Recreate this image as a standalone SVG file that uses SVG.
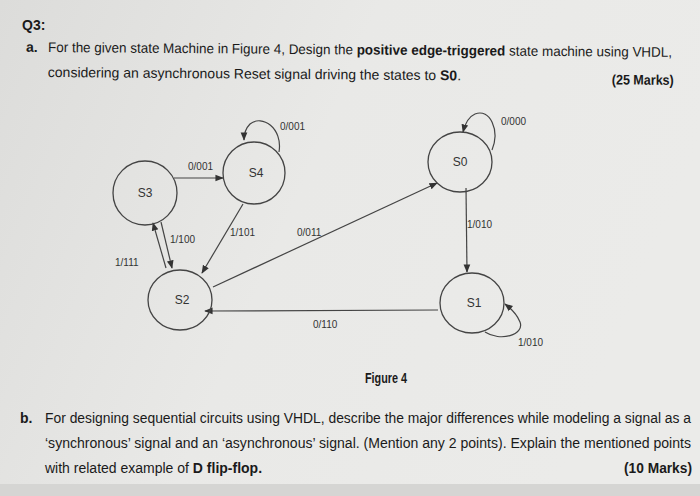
<svg xmlns="http://www.w3.org/2000/svg" width="700" height="496" viewBox="0 0 700 496">
<defs>
<linearGradient id="bg" x1="0" y1="0" x2="1" y2="0.3"><stop offset="0" stop-color="#dcdcda"/><stop offset="0.5" stop-color="#e9e9e7"/><stop offset="1" stop-color="#ebebe9"/></linearGradient>
<marker id="ah" viewBox="0 0 10 10" refX="9" refY="5" markerWidth="7" markerHeight="7" orient="auto-start-reverse"><path d="M0,1 L10,5 L0,9 z" fill="#333"/></marker>
<style>
.t{font-family:"Liberation Sans",Arial,sans-serif;font-size:14px;fill:#1a1a1a}
.b{font-weight:bold}
.n{fill:none;stroke:#444;stroke-width:1.3}
.l{font-family:"Liberation Sans",Arial,sans-serif;font-size:10px;fill:#333}
.s{font-family:"Liberation Sans",Arial,sans-serif;font-size:12px;fill:#333;text-anchor:middle}
.e{fill:none;stroke:#444;stroke-width:1.2;marker-end:url(#ah)}
</style>
</defs>
<rect width="700" height="496" fill="url(#bg)"/>
<rect y="484" width="700" height="12" fill="#d5d5d3"/>
<text class="t b" x="22" y="30">Q3:</text>
<g transform="rotate(0.45 48 52)">
<text class="t b" x="26" y="52">a.</text>
<text class="t" x="48" y="52" textLength="624" lengthAdjust="spacingAndGlyphs">For the given state Machine in Figure 4, Design the <tspan class="b">positive edge-triggered</tspan> state machine using VHDL,</text>
<text class="t" x="48" y="77">considering an asynchronous Reset signal driving the states to <tspan class="b">S0</tspan>.</text>
<text class="t b" x="612" y="80" textLength="62" lengthAdjust="spacingAndGlyphs">(25 Marks)</text>
</g>
<g id="connectors">
<line class="e" x1="174" y1="178" x2="223" y2="178"/>
<line class="e" x1="243" y1="204" x2="202" y2="273"/>
<line class="e" x1="161" y1="222" x2="172" y2="268"/>
<line class="e" x1="166" y1="268" x2="153" y2="223"/>
<line class="e" x1="213" y1="287" x2="437" y2="183"/>
<line class="e" x1="438" y1="310" x2="205" y2="311"/>
<line class="e" x1="466" y1="188" x2="467" y2="272"/>
<path class="e" d="M279,152 C283,128 262,114 250,124 C246,128 244,134 244,140"/>
<path class="e" d="M492,150 C500,130 490,108 475,114 C468,117 465,124 463,132"/>
<path class="e" d="M485,332 C500,342 525,335 520,322 C516,312 510,308 505,304"/>
<text class="l" x="188" y="170">0/001</text>
<text class="l" x="280" y="130">0/001</text>
<text class="l" x="501" y="125">0/000</text>
<text class="l" x="467" y="228">1/010</text>
<text class="l" x="297" y="236">0/011</text>
<text class="l" x="230" y="236">1/101</text>
<text class="l" x="170" y="243">1/100</text>
<text class="l" x="115" y="266">1/111</text>
<text class="l" x="313" y="328">0/110</text>
<text class="l" x="518" y="346">1/010</text>
</g>
<g id="S3"><ellipse class="n" cx="145" cy="193" rx="32" ry="32"/><text class="s" x="145" y="197">S3</text></g>
<g id="S4"><ellipse class="n" cx="254" cy="173" rx="31" ry="31"/><text class="s" x="256" y="177">S4</text></g>
<g id="S0"><ellipse class="n" cx="460" cy="162" rx="32" ry="30"/><text class="s" x="460" y="166">S0</text></g>
<g id="S2"><ellipse class="n" cx="180" cy="300" rx="32" ry="30"/><text class="s" x="182" y="304">S2</text></g>
<g id="S1"><ellipse class="n" cx="472" cy="303" rx="32" ry="30"/><text class="s" x="474" y="307">S1</text></g>
<text class="t b" x="365" y="383" textLength="42" lengthAdjust="spacingAndGlyphs">Figure 4</text>
<text class="t b" x="20" y="423">b.</text>
<text class="t" x="45" y="423" textLength="646" lengthAdjust="spacingAndGlyphs">For designing sequential circuits using VHDL, describe the major differences while modeling a signal as a</text>
<text class="t" x="45" y="448" textLength="646" lengthAdjust="spacingAndGlyphs">‘synchronous’ signal and an ‘asynchronous’ signal. (Mention any 2 points). Explain the mentioned points</text>
<text class="t" x="45" y="473">with related example of <tspan class="b">D flip-flop.</tspan></text>
<text class="t b" x="624" y="473" textLength="68" lengthAdjust="spacingAndGlyphs">(10 Marks)</text>
</svg>
